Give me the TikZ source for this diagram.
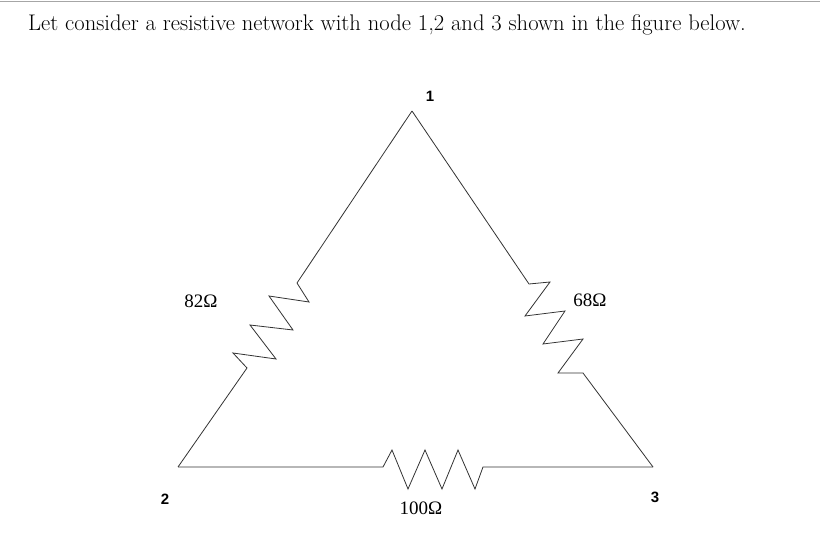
\documentclass[tikz,border=0pt]{standalone}
\usepackage{fontspec}
\newfontfamily\valfont{Liberation Serif}
\newfontfamily\numfont{Liberation Sans}
\begin{document}
\begin{tikzpicture}[x=1pt,y=-1pt,
  wire/.style={draw=black!80,line width=0.8pt,line join=miter},
  val/.style={font=\valfont\fontsize{19}{22}\selectfont},
  num/.style={font=\numfont\bfseries\fontsize{15}{18}\selectfont}]
\useasboundingbox[fill=white] (0,0) rectangle (820,545);
\draw[black!35,line width=0.8pt] (0,1) -- (820,1);
\node[anchor=west,inner sep=0pt,font=\fontsize{22.6}{26}\selectfont] (title) at (28,25) {Let consider a resistive network with node 1,2 and 3 shown in the figure below.};
\coordinate (n1) at (412,111);
\coordinate (n2) at (178,467);
\coordinate (n3) at (653,467);
\draw[wire] (n2) -- (247,368) -- (233,353) -- (276,359) -- (250,325) -- (293,330) -- (269,296) -- (309,302) -- (297,283) -- (n1);
\draw[wire] (n1) -- (529,284) -- (550,282) -- (525,316) -- (565,311) -- (543,344) -- (583,339) -- (558,373) -- (583,373) -- (n3);
\draw[wire] (n2) -- (383,467) -- (392,450) -- (408,489) -- (425,450) -- (442,489) -- (458,450) -- (475,489) -- (483,467) -- (n3);
\node[num] (l1) at (430,96) {1};
\node[num] (l2) at (165,499) {2};
\node[num] (l3) at (655,497) {3};
\node[val] (r1) at (201,301) {82Ω};
\node[val] (r2) at (590,300) {68Ω};
\node[val] (r3) at (421,508) {100Ω};
\end{tikzpicture}
\end{document}
